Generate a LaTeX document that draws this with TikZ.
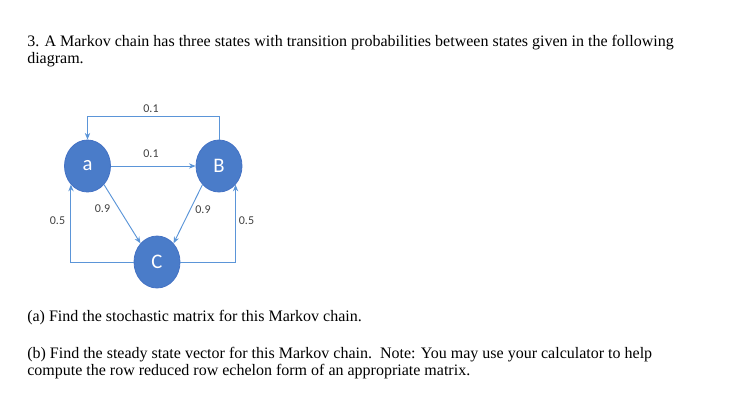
\documentclass[tikz,border=0pt]{standalone}
\usepackage{fontspec}
\setmainfont{Liberation Serif}
\newfontfamily\calibfont{Carlito}
\usetikzlibrary{positioning,shapes.geometric,arrows.meta}
\definecolor{nodeblue}{HTML}{4A7CC9}
\definecolor{nodeline}{HTML}{4472C4}
\definecolor{edgeblue}{HTML}{5B95D8}
\definecolor{labelgray}{HTML}{404040}
\tikzset{
	state/.style={ellipse, fill=nodeblue, draw=nodeline, line width=0.6pt,
		minimum width=34.5pt, minimum height=39pt, inner sep=0pt,
		text=white, font=\calibfont\fontsize{15.5}{18}\selectfont},
	edge/.style={draw=edgeblue, line width=0.7pt, -{Stealth[length=5pt,width=4pt]}},
	prob/.style={text=labelgray, font=\calibfont\fontsize{9}{11}\selectfont, inner sep=0pt},
	para/.style={anchor=base west, inner sep=0pt, font=\fontsize{12}{14}\selectfont}
}

\begin{document}
\begin{tikzpicture}[x=0.75pt, y=-0.75pt]
	\useasboundingbox (0,0) rectangle (748,419);

	% question text
	\node[para] (q1) at (27,46.3) {3. A Markov chain has three states with transition probabilities between states given in the following};
	\node[para] (q2) at (27,63) {diagram.};

	% states
	\node[state] (a) at (87.5,166) {a};
	\node[state] (B) at (219,166) {B};
	\node[state] (C) at (157,262) {C};

	% transitions
	\draw[edge] (a.east) -- (B.west);
	\draw[edge] (B.north) -- ++(0,-23) -| (a.north);
	\draw[edge] (a.south east) -- (C.north west);
	\draw[edge] (B.south west) -- (C.north east);
	\draw[edge] (C.west) -| (a.south west);
	\draw[edge] (C.east) -| (B.south east);

	% probabilities
	\node[prob] (pab) at (151,153.5) {0.1};
	\node[prob] (pba) at (151,109) {0.1};
	\node[prob] (pac) at (102.5,209) {0.9};
	\node[prob] (pbc) at (203,210) {0.9};
	\node[prob] (pca) at (57.5,221) {0.5};
	\node[prob] (pcb) at (246.5,221) {0.5};

	% parts
	\node[para] (pa) at (27,321.7) {(a) Find the stochastic matrix for this Markov chain.};
	\node[para] (pb1) at (27,358) {(b) Find the steady state vector for this Markov chain.\ \ Note: You may use your calculator to help};
	\node[para] (pb2) at (27,375) {compute the row reduced row echelon form of an appropriate matrix.};
\end{tikzpicture}
\end{document}
